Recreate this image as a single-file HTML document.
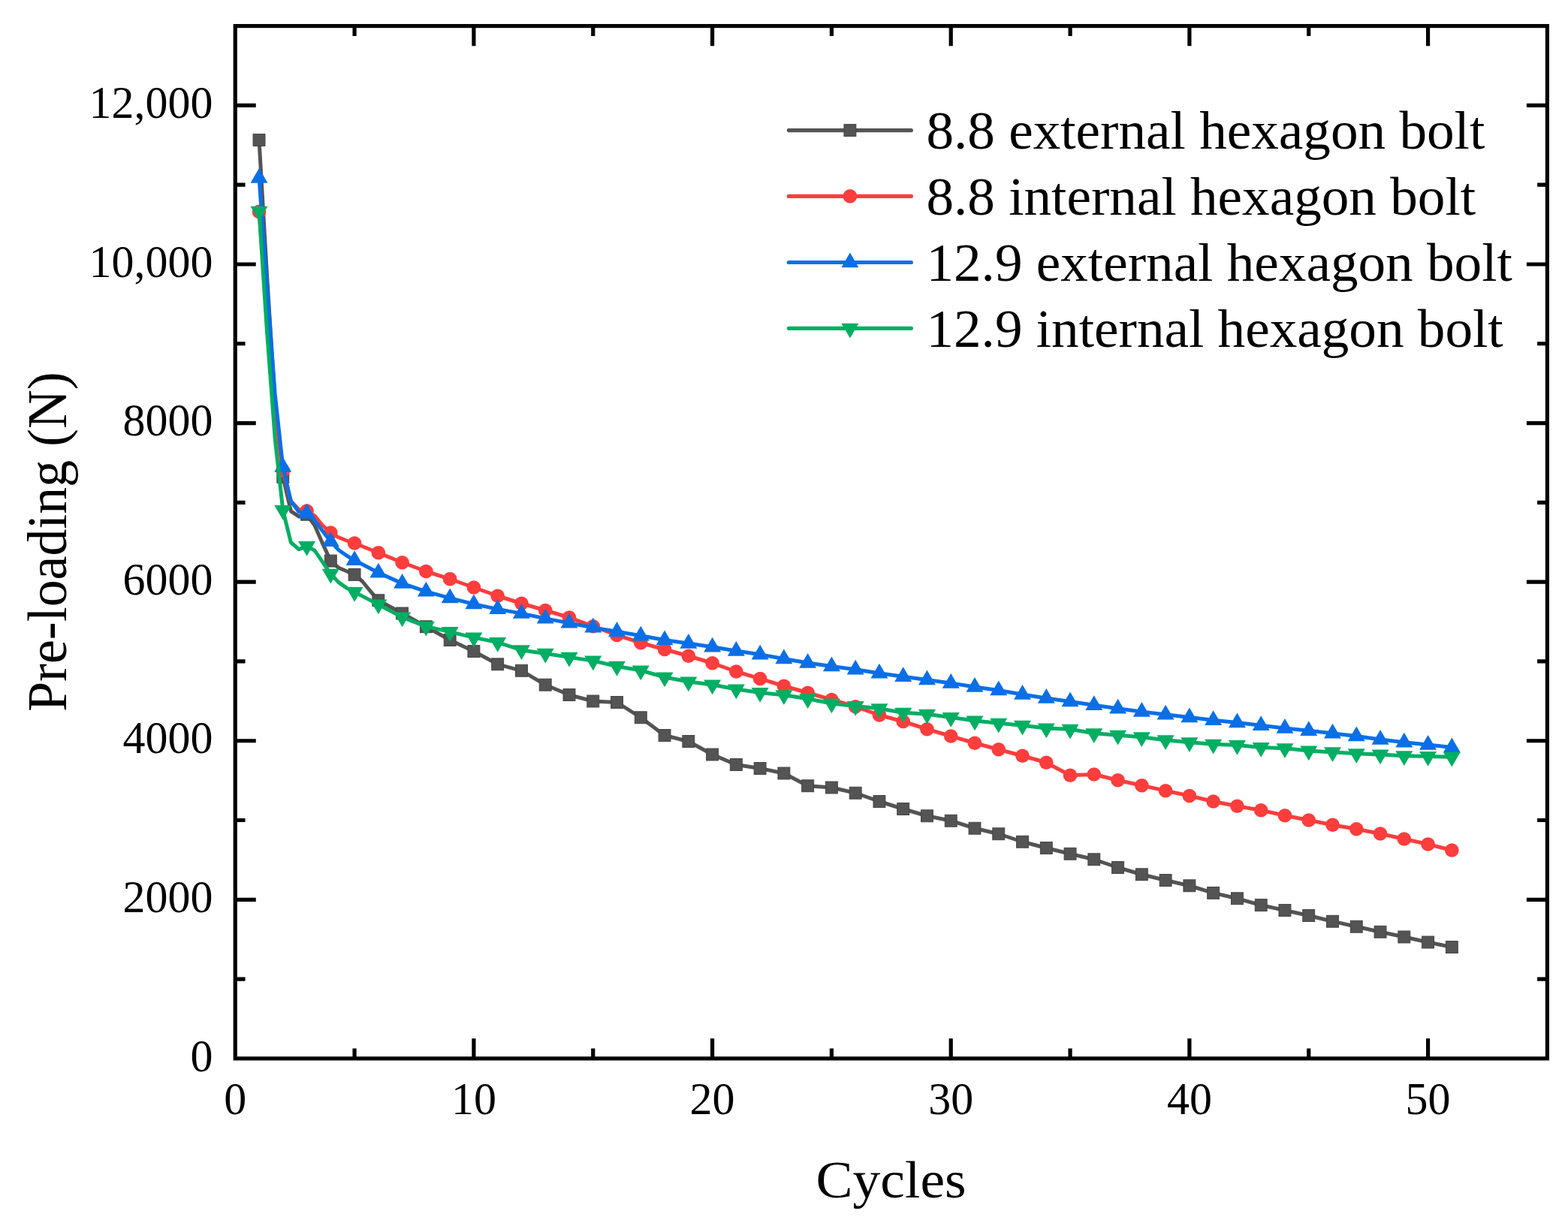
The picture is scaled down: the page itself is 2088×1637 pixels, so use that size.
<!DOCTYPE html>
<html lang="en">
<head>
<meta charset="utf-8">
<title>Pre-loading vs Cycles</title>
<style>
html,body{margin:0;padding:0;background:#fff}
body{width:2088px;height:1637px;overflow:hidden}
svg{display:block}
text{font-family:"Liberation Serif",serif;fill:#000}
</style>
</head>
<body>
<svg id="chart" role="img" aria-label="Pre-loading (N) versus Cycles for four bolt types" width="2088" height="1637" viewBox="0 0 2088 1637">
<rect width="2088" height="1637" fill="#fff"/>
<g id="series-black" class="series">
<polyline points="345.02,186.5 355.61,368.5 366.19,535 376.78,635.3 387.37,680.8 397.96,687.9 408.55,685.25 419.14,700 429.73,724.2 440.32,747.1 450.9,756.25 461.49,760.8 472.08,765.4 482.67,774.5 493.26,787.5 503.85,799.7 535.61,817 567.38,834.75 599.15,852.5 630.91,867.5 662.68,884.8 694.45,893.3 726.21,912.2 757.98,925.5 789.75,934 821.51,935.5 853.28,955.75 885.04,979.5 916.81,987.5 948.58,1005 980.34,1018.5 1012.11,1023.5 1043.88,1030 1075.64,1046.75 1107.41,1049 1139.18,1056.25 1170.94,1067.5 1202.71,1077.5 1234.47,1086.75 1266.24,1093.25 1298.01,1103.25 1329.77,1110.75 1361.54,1121.25 1393.31,1129.5 1425.07,1137.25 1456.84,1144.75 1488.61,1155.5 1520.37,1164.75 1552.14,1172.5 1583.9,1179.75 1615.67,1189.4 1647.44,1196.75 1679.2,1205.6 1710.97,1212.5 1742.74,1219.5 1774.5,1227.25 1806.27,1234.25 1838.04,1241.25 1869.8,1248 1901.57,1255 1933.33,1261.5" fill="none" stroke="#545454" stroke-width="5" stroke-linejoin="round" stroke-linecap="round"/>
<rect x="337.07" y="178.55" width="15.9" height="15.9" fill="#545454" stroke="#444444" stroke-width="1"/><rect x="368.83" y="627.35" width="15.9" height="15.9" fill="#545454" stroke="#444444" stroke-width="1"/><rect x="400.6" y="677.3" width="15.9" height="15.9" fill="#545454" stroke="#444444" stroke-width="1"/><rect x="432.37" y="739.15" width="15.9" height="15.9" fill="#545454" stroke="#444444" stroke-width="1"/><rect x="464.13" y="757.45" width="15.9" height="15.9" fill="#545454" stroke="#444444" stroke-width="1"/><rect x="495.9" y="791.75" width="15.9" height="15.9" fill="#545454" stroke="#444444" stroke-width="1"/><rect x="527.66" y="809.05" width="15.9" height="15.9" fill="#545454" stroke="#444444" stroke-width="1"/><rect x="559.43" y="826.8" width="15.9" height="15.9" fill="#545454" stroke="#444444" stroke-width="1"/><rect x="591.2" y="844.55" width="15.9" height="15.9" fill="#545454" stroke="#444444" stroke-width="1"/><rect x="622.96" y="859.55" width="15.9" height="15.9" fill="#545454" stroke="#444444" stroke-width="1"/><rect x="654.73" y="876.85" width="15.9" height="15.9" fill="#545454" stroke="#444444" stroke-width="1"/><rect x="686.5" y="885.35" width="15.9" height="15.9" fill="#545454" stroke="#444444" stroke-width="1"/><rect x="718.26" y="904.25" width="15.9" height="15.9" fill="#545454" stroke="#444444" stroke-width="1"/><rect x="750.03" y="917.55" width="15.9" height="15.9" fill="#545454" stroke="#444444" stroke-width="1"/><rect x="781.8" y="926.05" width="15.9" height="15.9" fill="#545454" stroke="#444444" stroke-width="1"/><rect x="813.56" y="927.55" width="15.9" height="15.9" fill="#545454" stroke="#444444" stroke-width="1"/><rect x="845.33" y="947.8" width="15.9" height="15.9" fill="#545454" stroke="#444444" stroke-width="1"/><rect x="877.09" y="971.55" width="15.9" height="15.9" fill="#545454" stroke="#444444" stroke-width="1"/><rect x="908.86" y="979.55" width="15.9" height="15.9" fill="#545454" stroke="#444444" stroke-width="1"/><rect x="940.63" y="997.05" width="15.9" height="15.9" fill="#545454" stroke="#444444" stroke-width="1"/><rect x="972.39" y="1010.55" width="15.9" height="15.9" fill="#545454" stroke="#444444" stroke-width="1"/><rect x="1004.16" y="1015.55" width="15.9" height="15.9" fill="#545454" stroke="#444444" stroke-width="1"/><rect x="1035.93" y="1022.05" width="15.9" height="15.9" fill="#545454" stroke="#444444" stroke-width="1"/><rect x="1067.69" y="1038.8" width="15.9" height="15.9" fill="#545454" stroke="#444444" stroke-width="1"/><rect x="1099.46" y="1041.05" width="15.9" height="15.9" fill="#545454" stroke="#444444" stroke-width="1"/><rect x="1131.23" y="1048.3" width="15.9" height="15.9" fill="#545454" stroke="#444444" stroke-width="1"/><rect x="1162.99" y="1059.55" width="15.9" height="15.9" fill="#545454" stroke="#444444" stroke-width="1"/><rect x="1194.76" y="1069.55" width="15.9" height="15.9" fill="#545454" stroke="#444444" stroke-width="1"/><rect x="1226.52" y="1078.8" width="15.9" height="15.9" fill="#545454" stroke="#444444" stroke-width="1"/><rect x="1258.29" y="1085.3" width="15.9" height="15.9" fill="#545454" stroke="#444444" stroke-width="1"/><rect x="1290.06" y="1095.3" width="15.9" height="15.9" fill="#545454" stroke="#444444" stroke-width="1"/><rect x="1321.82" y="1102.8" width="15.9" height="15.9" fill="#545454" stroke="#444444" stroke-width="1"/><rect x="1353.59" y="1113.3" width="15.9" height="15.9" fill="#545454" stroke="#444444" stroke-width="1"/><rect x="1385.36" y="1121.55" width="15.9" height="15.9" fill="#545454" stroke="#444444" stroke-width="1"/><rect x="1417.12" y="1129.3" width="15.9" height="15.9" fill="#545454" stroke="#444444" stroke-width="1"/><rect x="1448.89" y="1136.8" width="15.9" height="15.9" fill="#545454" stroke="#444444" stroke-width="1"/><rect x="1480.66" y="1147.55" width="15.9" height="15.9" fill="#545454" stroke="#444444" stroke-width="1"/><rect x="1512.42" y="1156.8" width="15.9" height="15.9" fill="#545454" stroke="#444444" stroke-width="1"/><rect x="1544.19" y="1164.55" width="15.9" height="15.9" fill="#545454" stroke="#444444" stroke-width="1"/><rect x="1575.95" y="1171.8" width="15.9" height="15.9" fill="#545454" stroke="#444444" stroke-width="1"/><rect x="1607.72" y="1181.45" width="15.9" height="15.9" fill="#545454" stroke="#444444" stroke-width="1"/><rect x="1639.49" y="1188.8" width="15.9" height="15.9" fill="#545454" stroke="#444444" stroke-width="1"/><rect x="1671.25" y="1197.65" width="15.9" height="15.9" fill="#545454" stroke="#444444" stroke-width="1"/><rect x="1703.02" y="1204.55" width="15.9" height="15.9" fill="#545454" stroke="#444444" stroke-width="1"/><rect x="1734.79" y="1211.55" width="15.9" height="15.9" fill="#545454" stroke="#444444" stroke-width="1"/><rect x="1766.55" y="1219.3" width="15.9" height="15.9" fill="#545454" stroke="#444444" stroke-width="1"/><rect x="1798.32" y="1226.3" width="15.9" height="15.9" fill="#545454" stroke="#444444" stroke-width="1"/><rect x="1830.09" y="1233.3" width="15.9" height="15.9" fill="#545454" stroke="#444444" stroke-width="1"/><rect x="1861.85" y="1240.05" width="15.9" height="15.9" fill="#545454" stroke="#444444" stroke-width="1"/><rect x="1893.62" y="1247.05" width="15.9" height="15.9" fill="#545454" stroke="#444444" stroke-width="1"/><rect x="1925.38" y="1253.55" width="15.9" height="15.9" fill="#545454" stroke="#444444" stroke-width="1"/>
</g>
<g id="series-red" class="series">
<polyline points="345.02,281.9 355.61,420 366.19,555 376.78,627 387.37,667.5 397.96,678.75 408.55,680.6 419.14,687.1 429.73,700 440.32,709.5 450.9,715.8 461.49,720 472.08,723.5 503.85,736.25 535.61,749.25 567.38,761 599.15,771.25 630.91,782.5 662.68,793.75 694.45,803.75 726.21,813 757.98,822.5 789.75,834.25 821.51,845.9 853.28,856.25 885.04,865 916.81,873.75 948.58,883.25 980.34,894.5 1012.11,904 1043.88,913.75 1075.64,922.75 1107.41,932 1139.18,941.25 1170.94,952.5 1202.71,961 1234.47,971.25 1266.24,980.5 1298.01,989.75 1329.77,998.25 1361.54,1006.75 1393.31,1015.75 1425.07,1032.75 1456.84,1031.5 1488.61,1039.25 1520.37,1046.25 1552.14,1053.25 1583.9,1060 1615.67,1067.5 1647.44,1073.75 1679.2,1079.25 1710.97,1086.25 1742.74,1092.5 1774.5,1098.75 1806.27,1104.25 1838.04,1110.5 1869.8,1117.5 1901.57,1124.5 1933.33,1132.5" fill="none" stroke="#fe3d3d" stroke-width="5" stroke-linejoin="round" stroke-linecap="round"/>
<circle cx="345.02" cy="281.9" r="9.35" fill="#fe3d3d"/><circle cx="376.78" cy="627" r="9.35" fill="#fe3d3d"/><circle cx="408.55" cy="680.6" r="9.35" fill="#fe3d3d"/><circle cx="440.32" cy="709.5" r="9.35" fill="#fe3d3d"/><circle cx="472.08" cy="723.5" r="9.35" fill="#fe3d3d"/><circle cx="503.85" cy="736.25" r="9.35" fill="#fe3d3d"/><circle cx="535.61" cy="749.25" r="9.35" fill="#fe3d3d"/><circle cx="567.38" cy="761" r="9.35" fill="#fe3d3d"/><circle cx="599.15" cy="771.25" r="9.35" fill="#fe3d3d"/><circle cx="630.91" cy="782.5" r="9.35" fill="#fe3d3d"/><circle cx="662.68" cy="793.75" r="9.35" fill="#fe3d3d"/><circle cx="694.45" cy="803.75" r="9.35" fill="#fe3d3d"/><circle cx="726.21" cy="813" r="9.35" fill="#fe3d3d"/><circle cx="757.98" cy="822.5" r="9.35" fill="#fe3d3d"/><circle cx="789.75" cy="834.25" r="9.35" fill="#fe3d3d"/><circle cx="821.51" cy="845.9" r="9.35" fill="#fe3d3d"/><circle cx="853.28" cy="856.25" r="9.35" fill="#fe3d3d"/><circle cx="885.04" cy="865" r="9.35" fill="#fe3d3d"/><circle cx="916.81" cy="873.75" r="9.35" fill="#fe3d3d"/><circle cx="948.58" cy="883.25" r="9.35" fill="#fe3d3d"/><circle cx="980.34" cy="894.5" r="9.35" fill="#fe3d3d"/><circle cx="1012.11" cy="904" r="9.35" fill="#fe3d3d"/><circle cx="1043.88" cy="913.75" r="9.35" fill="#fe3d3d"/><circle cx="1075.64" cy="922.75" r="9.35" fill="#fe3d3d"/><circle cx="1107.41" cy="932" r="9.35" fill="#fe3d3d"/><circle cx="1139.18" cy="941.25" r="9.35" fill="#fe3d3d"/><circle cx="1170.94" cy="952.5" r="9.35" fill="#fe3d3d"/><circle cx="1202.71" cy="961" r="9.35" fill="#fe3d3d"/><circle cx="1234.47" cy="971.25" r="9.35" fill="#fe3d3d"/><circle cx="1266.24" cy="980.5" r="9.35" fill="#fe3d3d"/><circle cx="1298.01" cy="989.75" r="9.35" fill="#fe3d3d"/><circle cx="1329.77" cy="998.25" r="9.35" fill="#fe3d3d"/><circle cx="1361.54" cy="1006.75" r="9.35" fill="#fe3d3d"/><circle cx="1393.31" cy="1015.75" r="9.35" fill="#fe3d3d"/><circle cx="1425.07" cy="1032.75" r="9.35" fill="#fe3d3d"/><circle cx="1456.84" cy="1031.5" r="9.35" fill="#fe3d3d"/><circle cx="1488.61" cy="1039.25" r="9.35" fill="#fe3d3d"/><circle cx="1520.37" cy="1046.25" r="9.35" fill="#fe3d3d"/><circle cx="1552.14" cy="1053.25" r="9.35" fill="#fe3d3d"/><circle cx="1583.9" cy="1060" r="9.35" fill="#fe3d3d"/><circle cx="1615.67" cy="1067.5" r="9.35" fill="#fe3d3d"/><circle cx="1647.44" cy="1073.75" r="9.35" fill="#fe3d3d"/><circle cx="1679.2" cy="1079.25" r="9.35" fill="#fe3d3d"/><circle cx="1710.97" cy="1086.25" r="9.35" fill="#fe3d3d"/><circle cx="1742.74" cy="1092.5" r="9.35" fill="#fe3d3d"/><circle cx="1774.5" cy="1098.75" r="9.35" fill="#fe3d3d"/><circle cx="1806.27" cy="1104.25" r="9.35" fill="#fe3d3d"/><circle cx="1838.04" cy="1110.5" r="9.35" fill="#fe3d3d"/><circle cx="1869.8" cy="1117.5" r="9.35" fill="#fe3d3d"/><circle cx="1901.57" cy="1124.5" r="9.35" fill="#fe3d3d"/><circle cx="1933.33" cy="1132.5" r="9.35" fill="#fe3d3d"/>
</g>
<g id="series-blue" class="series">
<polyline points="345.02,237 355.61,381.6 366.19,525 376.78,622.1 387.37,667.5 397.96,681.7 408.55,683.7 419.14,693.3 429.73,707.5 440.32,721.3 450.9,732.5 461.49,740 472.08,746.3 503.85,762.8 535.61,777.1 567.38,787.85 599.15,796.6 630.91,804.6 662.68,811.35 694.45,817.1 726.21,823.85 757.98,829.85 789.75,835.85 821.51,841.2 853.28,846.75 885.04,852.5 916.81,857 948.58,861.75 980.34,867 1012.11,871.75 1043.88,877.5 1075.64,883 1107.41,887.5 1139.18,891.75 1170.94,896.75 1202.71,901.25 1234.47,905.5 1266.24,910 1298.01,915 1329.77,919.5 1361.54,925 1393.31,930 1425.07,934.5 1456.84,939.25 1488.61,943.75 1520.37,948 1552.14,951.75 1583.9,955.5 1615.67,959.25 1647.44,962.5 1679.2,966.25 1710.97,970 1742.74,973.25 1774.5,976.75 1806.27,980.5 1838.04,985 1869.8,988.75 1901.57,992 1933.33,995.5" fill="none" stroke="#0a6fe6" stroke-width="5" stroke-linejoin="round" stroke-linecap="round"/>
<path d="M345.02 223.9L356.52 243.7L333.52 243.7Z" fill="#0a6fe6"/><path d="M376.78 609L388.28 628.8L365.28 628.8Z" fill="#0a6fe6"/><path d="M408.55 670.6L420.05 690.4L397.05 690.4Z" fill="#0a6fe6"/><path d="M440.32 708.2L451.82 728L428.82 728Z" fill="#0a6fe6"/><path d="M472.08 733.2L483.58 753L460.58 753Z" fill="#0a6fe6"/><path d="M503.85 749.7L515.35 769.5L492.35 769.5Z" fill="#0a6fe6"/><path d="M535.61 764L547.11 783.8L524.11 783.8Z" fill="#0a6fe6"/><path d="M567.38 774.75L578.88 794.55L555.88 794.55Z" fill="#0a6fe6"/><path d="M599.15 783.5L610.65 803.3L587.65 803.3Z" fill="#0a6fe6"/><path d="M630.91 791.5L642.41 811.3L619.41 811.3Z" fill="#0a6fe6"/><path d="M662.68 798.25L674.18 818.05L651.18 818.05Z" fill="#0a6fe6"/><path d="M694.45 804L705.95 823.8L682.95 823.8Z" fill="#0a6fe6"/><path d="M726.21 810.75L737.71 830.55L714.71 830.55Z" fill="#0a6fe6"/><path d="M757.98 816.75L769.48 836.55L746.48 836.55Z" fill="#0a6fe6"/><path d="M789.75 822.75L801.25 842.55L778.25 842.55Z" fill="#0a6fe6"/><path d="M821.51 828.1L833.01 847.9L810.01 847.9Z" fill="#0a6fe6"/><path d="M853.28 833.65L864.78 853.45L841.78 853.45Z" fill="#0a6fe6"/><path d="M885.04 839.4L896.54 859.2L873.54 859.2Z" fill="#0a6fe6"/><path d="M916.81 843.9L928.31 863.7L905.31 863.7Z" fill="#0a6fe6"/><path d="M948.58 848.65L960.08 868.45L937.08 868.45Z" fill="#0a6fe6"/><path d="M980.34 853.9L991.84 873.7L968.84 873.7Z" fill="#0a6fe6"/><path d="M1012.11 858.65L1023.61 878.45L1000.61 878.45Z" fill="#0a6fe6"/><path d="M1043.88 864.4L1055.38 884.2L1032.38 884.2Z" fill="#0a6fe6"/><path d="M1075.64 869.9L1087.14 889.7L1064.14 889.7Z" fill="#0a6fe6"/><path d="M1107.41 874.4L1118.91 894.2L1095.91 894.2Z" fill="#0a6fe6"/><path d="M1139.18 878.65L1150.68 898.45L1127.68 898.45Z" fill="#0a6fe6"/><path d="M1170.94 883.65L1182.44 903.45L1159.44 903.45Z" fill="#0a6fe6"/><path d="M1202.71 888.15L1214.21 907.95L1191.21 907.95Z" fill="#0a6fe6"/><path d="M1234.47 892.4L1245.97 912.2L1222.97 912.2Z" fill="#0a6fe6"/><path d="M1266.24 896.9L1277.74 916.7L1254.74 916.7Z" fill="#0a6fe6"/><path d="M1298.01 901.9L1309.51 921.7L1286.51 921.7Z" fill="#0a6fe6"/><path d="M1329.77 906.4L1341.27 926.2L1318.27 926.2Z" fill="#0a6fe6"/><path d="M1361.54 911.9L1373.04 931.7L1350.04 931.7Z" fill="#0a6fe6"/><path d="M1393.31 916.9L1404.81 936.7L1381.81 936.7Z" fill="#0a6fe6"/><path d="M1425.07 921.4L1436.57 941.2L1413.57 941.2Z" fill="#0a6fe6"/><path d="M1456.84 926.15L1468.34 945.95L1445.34 945.95Z" fill="#0a6fe6"/><path d="M1488.61 930.65L1500.11 950.45L1477.11 950.45Z" fill="#0a6fe6"/><path d="M1520.37 934.9L1531.87 954.7L1508.87 954.7Z" fill="#0a6fe6"/><path d="M1552.14 938.65L1563.64 958.45L1540.64 958.45Z" fill="#0a6fe6"/><path d="M1583.9 942.4L1595.4 962.2L1572.4 962.2Z" fill="#0a6fe6"/><path d="M1615.67 946.15L1627.17 965.95L1604.17 965.95Z" fill="#0a6fe6"/><path d="M1647.44 949.4L1658.94 969.2L1635.94 969.2Z" fill="#0a6fe6"/><path d="M1679.2 953.15L1690.7 972.95L1667.7 972.95Z" fill="#0a6fe6"/><path d="M1710.97 956.9L1722.47 976.7L1699.47 976.7Z" fill="#0a6fe6"/><path d="M1742.74 960.15L1754.24 979.95L1731.24 979.95Z" fill="#0a6fe6"/><path d="M1774.5 963.65L1786 983.45L1763 983.45Z" fill="#0a6fe6"/><path d="M1806.27 967.4L1817.77 987.2L1794.77 987.2Z" fill="#0a6fe6"/><path d="M1838.04 971.9L1849.54 991.7L1826.54 991.7Z" fill="#0a6fe6"/><path d="M1869.8 975.65L1881.3 995.45L1858.3 995.45Z" fill="#0a6fe6"/><path d="M1901.57 978.9L1913.07 998.7L1890.07 998.7Z" fill="#0a6fe6"/><path d="M1933.33 982.4L1944.83 1002.2L1921.83 1002.2Z" fill="#0a6fe6"/>
</g>
<g id="series-green" class="series">
<polyline points="345.02,281.4 355.61,443 366.19,584 376.78,679.6 387.37,722.5 397.96,731.7 408.55,727.6 419.14,733.3 429.73,748.8 440.32,764.4 450.9,775.6 461.49,783.1 472.08,788.65 503.85,805.15 535.61,822.15 567.38,834.4 599.15,841.65 630.91,849.15 662.68,855.65 694.45,865.9 726.21,870.4 757.98,875.4 789.75,880.15 821.51,887.45 853.28,893 885.04,902 916.81,908 948.58,912 980.34,918 1012.11,922.5 1043.88,925.75 1075.64,930.75 1107.41,937 1139.18,940.5 1170.94,943.75 1202.71,949.25 1234.47,951.25 1266.24,955.5 1298.01,960 1329.77,963.25 1361.54,966.25 1393.31,970 1425.07,971.25 1456.84,976.75 1488.61,979.25 1520.37,981.75 1552.14,985.75 1583.9,988.75 1615.67,991.25 1647.44,992.5 1679.2,995.5 1710.97,996.75 1742.74,1000 1774.5,1001.9 1806.27,1003.75 1838.04,1005 1869.8,1006.75 1901.57,1007.5 1933.33,1008.25" fill="none" stroke="#00ae63" stroke-width="5" stroke-linejoin="round" stroke-linecap="round"/>
<path d="M345.02 294.6L356.52 274.8L333.52 274.8Z" fill="#00ae63"/><path d="M376.78 692.8L388.28 673L365.28 673Z" fill="#00ae63"/><path d="M408.55 740.8L420.05 721L397.05 721Z" fill="#00ae63"/><path d="M440.32 777.6L451.82 757.8L428.82 757.8Z" fill="#00ae63"/><path d="M472.08 801.85L483.58 782.05L460.58 782.05Z" fill="#00ae63"/><path d="M503.85 818.35L515.35 798.55L492.35 798.55Z" fill="#00ae63"/><path d="M535.61 835.35L547.11 815.55L524.11 815.55Z" fill="#00ae63"/><path d="M567.38 847.6L578.88 827.8L555.88 827.8Z" fill="#00ae63"/><path d="M599.15 854.85L610.65 835.05L587.65 835.05Z" fill="#00ae63"/><path d="M630.91 862.35L642.41 842.55L619.41 842.55Z" fill="#00ae63"/><path d="M662.68 868.85L674.18 849.05L651.18 849.05Z" fill="#00ae63"/><path d="M694.45 879.1L705.95 859.3L682.95 859.3Z" fill="#00ae63"/><path d="M726.21 883.6L737.71 863.8L714.71 863.8Z" fill="#00ae63"/><path d="M757.98 888.6L769.48 868.8L746.48 868.8Z" fill="#00ae63"/><path d="M789.75 893.35L801.25 873.55L778.25 873.55Z" fill="#00ae63"/><path d="M821.51 900.65L833.01 880.85L810.01 880.85Z" fill="#00ae63"/><path d="M853.28 906.2L864.78 886.4L841.78 886.4Z" fill="#00ae63"/><path d="M885.04 915.2L896.54 895.4L873.54 895.4Z" fill="#00ae63"/><path d="M916.81 921.2L928.31 901.4L905.31 901.4Z" fill="#00ae63"/><path d="M948.58 925.2L960.08 905.4L937.08 905.4Z" fill="#00ae63"/><path d="M980.34 931.2L991.84 911.4L968.84 911.4Z" fill="#00ae63"/><path d="M1012.11 935.7L1023.61 915.9L1000.61 915.9Z" fill="#00ae63"/><path d="M1043.88 938.95L1055.38 919.15L1032.38 919.15Z" fill="#00ae63"/><path d="M1075.64 943.95L1087.14 924.15L1064.14 924.15Z" fill="#00ae63"/><path d="M1107.41 950.2L1118.91 930.4L1095.91 930.4Z" fill="#00ae63"/><path d="M1139.18 953.7L1150.68 933.9L1127.68 933.9Z" fill="#00ae63"/><path d="M1170.94 956.95L1182.44 937.15L1159.44 937.15Z" fill="#00ae63"/><path d="M1202.71 962.45L1214.21 942.65L1191.21 942.65Z" fill="#00ae63"/><path d="M1234.47 964.45L1245.97 944.65L1222.97 944.65Z" fill="#00ae63"/><path d="M1266.24 968.7L1277.74 948.9L1254.74 948.9Z" fill="#00ae63"/><path d="M1298.01 973.2L1309.51 953.4L1286.51 953.4Z" fill="#00ae63"/><path d="M1329.77 976.45L1341.27 956.65L1318.27 956.65Z" fill="#00ae63"/><path d="M1361.54 979.45L1373.04 959.65L1350.04 959.65Z" fill="#00ae63"/><path d="M1393.31 983.2L1404.81 963.4L1381.81 963.4Z" fill="#00ae63"/><path d="M1425.07 984.45L1436.57 964.65L1413.57 964.65Z" fill="#00ae63"/><path d="M1456.84 989.95L1468.34 970.15L1445.34 970.15Z" fill="#00ae63"/><path d="M1488.61 992.45L1500.11 972.65L1477.11 972.65Z" fill="#00ae63"/><path d="M1520.37 994.95L1531.87 975.15L1508.87 975.15Z" fill="#00ae63"/><path d="M1552.14 998.95L1563.64 979.15L1540.64 979.15Z" fill="#00ae63"/><path d="M1583.9 1001.95L1595.4 982.15L1572.4 982.15Z" fill="#00ae63"/><path d="M1615.67 1004.45L1627.17 984.65L1604.17 984.65Z" fill="#00ae63"/><path d="M1647.44 1005.7L1658.94 985.9L1635.94 985.9Z" fill="#00ae63"/><path d="M1679.2 1008.7L1690.7 988.9L1667.7 988.9Z" fill="#00ae63"/><path d="M1710.97 1009.95L1722.47 990.15L1699.47 990.15Z" fill="#00ae63"/><path d="M1742.74 1013.2L1754.24 993.4L1731.24 993.4Z" fill="#00ae63"/><path d="M1774.5 1015.1L1786 995.3L1763 995.3Z" fill="#00ae63"/><path d="M1806.27 1016.95L1817.77 997.15L1794.77 997.15Z" fill="#00ae63"/><path d="M1838.04 1018.2L1849.54 998.4L1826.54 998.4Z" fill="#00ae63"/><path d="M1869.8 1019.95L1881.3 1000.15L1858.3 1000.15Z" fill="#00ae63"/><path d="M1901.57 1020.7L1913.07 1000.9L1890.07 1000.9Z" fill="#00ae63"/><path d="M1933.33 1021.45L1944.83 1001.65L1921.83 1001.65Z" fill="#00ae63"/>
</g>
<g id="axes">
<rect x="313.25" y="34.6" width="1747.15" height="1375.3" fill="none" stroke="#000" stroke-width="5.2"/>
<path d="M472.08 1409.9v-13.3M472.08 34.6v13.3M630.91 1409.9v-26.7M630.91 34.6v26.7M789.75 1409.9v-13.3M789.75 34.6v13.3M948.58 1409.9v-26.7M948.58 34.6v26.7M1107.41 1409.9v-13.3M1107.41 34.6v13.3M1266.24 1409.9v-26.7M1266.24 34.6v26.7M1425.07 1409.9v-13.3M1425.07 34.6v13.3M1583.9 1409.9v-26.7M1583.9 34.6v26.7M1742.74 1409.9v-13.3M1742.74 34.6v13.3M1901.57 1409.9v-26.7M1901.57 34.6v26.7M313.25 1304.11h13.3M2060.4 1304.11h-13.3M313.25 1198.32h27.5M2060.4 1198.32h-27.5M313.25 1092.52h13.3M2060.4 1092.52h-13.3M313.25 986.73h27.5M2060.4 986.73h-27.5M313.25 880.94h13.3M2060.4 880.94h-13.3M313.25 775.15h27.5M2060.4 775.15h-27.5M313.25 669.35h13.3M2060.4 669.35h-13.3M313.25 563.56h27.5M2060.4 563.56h-27.5M313.25 457.77h13.3M2060.4 457.77h-13.3M313.25 351.98h27.5M2060.4 351.98h-27.5M313.25 246.18h13.3M2060.4 246.18h-13.3M313.25 140.39h27.5M2060.4 140.39h-27.5" fill="none" stroke="#000" stroke-width="5.2"/>
</g>
<g id="tick-labels" font-size="60.7px">
<text transform="translate(313.25 1484.4) scale(0.988 1)" text-anchor="middle">0</text>
<text transform="translate(630.91 1484.4) scale(0.988 1)" text-anchor="middle">10</text>
<text transform="translate(948.58 1484.4) scale(0.988 1)" text-anchor="middle">20</text>
<text transform="translate(1266.24 1484.4) scale(0.988 1)" text-anchor="middle">30</text>
<text transform="translate(1583.9 1484.4) scale(0.988 1)" text-anchor="middle">40</text>
<text transform="translate(1901.57 1484.4) scale(0.988 1)" text-anchor="middle">50</text>
<text transform="translate(283.5 1426.6) scale(0.988 1)" text-anchor="end">0</text>
<text transform="translate(283.5 1215.02) scale(0.988 1)" text-anchor="end">2000</text>
<text transform="translate(283.5 1003.43) scale(0.988 1)" text-anchor="end">4000</text>
<text transform="translate(283.5 791.85) scale(0.988 1)" text-anchor="end">6000</text>
<text transform="translate(283.5 580.26) scale(0.988 1)" text-anchor="end">8000</text>
<text transform="translate(283.5 368.68) scale(0.988 1)" text-anchor="end">10,000</text>
<text transform="translate(283.5 157.09) scale(0.988 1)" text-anchor="end">12,000</text>
</g>
<text transform="translate(1186.6 1595.4) scale(1 0.96)" font-size="73.5px" text-anchor="middle">Cycles</text>
<text transform="translate(88.3 721.6) rotate(-90) scale(0.977 1)" font-size="73.5px" text-anchor="middle">Pre-loading (N)</text>
<g id="legend" font-size="73.2px">
<line x1="1050.3" y1="173.6" x2="1213.4" y2="173.6" stroke="#545454" stroke-width="5.2" stroke-linecap="round"/><rect x="1123.95" y="165.65" width="15.9" height="15.9" fill="#545454" stroke="#444444" stroke-width="1"/><text transform="translate(1233.4 198) scale(1 0.985)">8.8 external hexagon bolt</text>
<line x1="1050.3" y1="261.45" x2="1213.4" y2="261.45" stroke="#fe3d3d" stroke-width="5.2" stroke-linecap="round"/><circle cx="1131.9" cy="261.45" r="9.35" fill="#fe3d3d"/><text transform="translate(1233.4 285.85) scale(1 0.985)">8.8 internal hexagon bolt</text>
<line x1="1050.3" y1="349.5" x2="1213.4" y2="349.5" stroke="#0a6fe6" stroke-width="5.2" stroke-linecap="round"/><path d="M1131.9 336.4L1143.4 356.2L1120.4 356.2Z" fill="#0a6fe6"/><text transform="translate(1233.4 373.9) scale(1 0.985)">12.9 external hexagon bolt</text>
<line x1="1050.3" y1="437.3" x2="1213.4" y2="437.3" stroke="#00ae63" stroke-width="5.2" stroke-linecap="round"/><path d="M1131.9 450.5L1143.4 430.7L1120.4 430.7Z" fill="#00ae63"/><text transform="translate(1233.4 461.7) scale(1 0.985)">12.9 internal hexagon bolt</text>
</g>
</svg>
</body>
</html>
